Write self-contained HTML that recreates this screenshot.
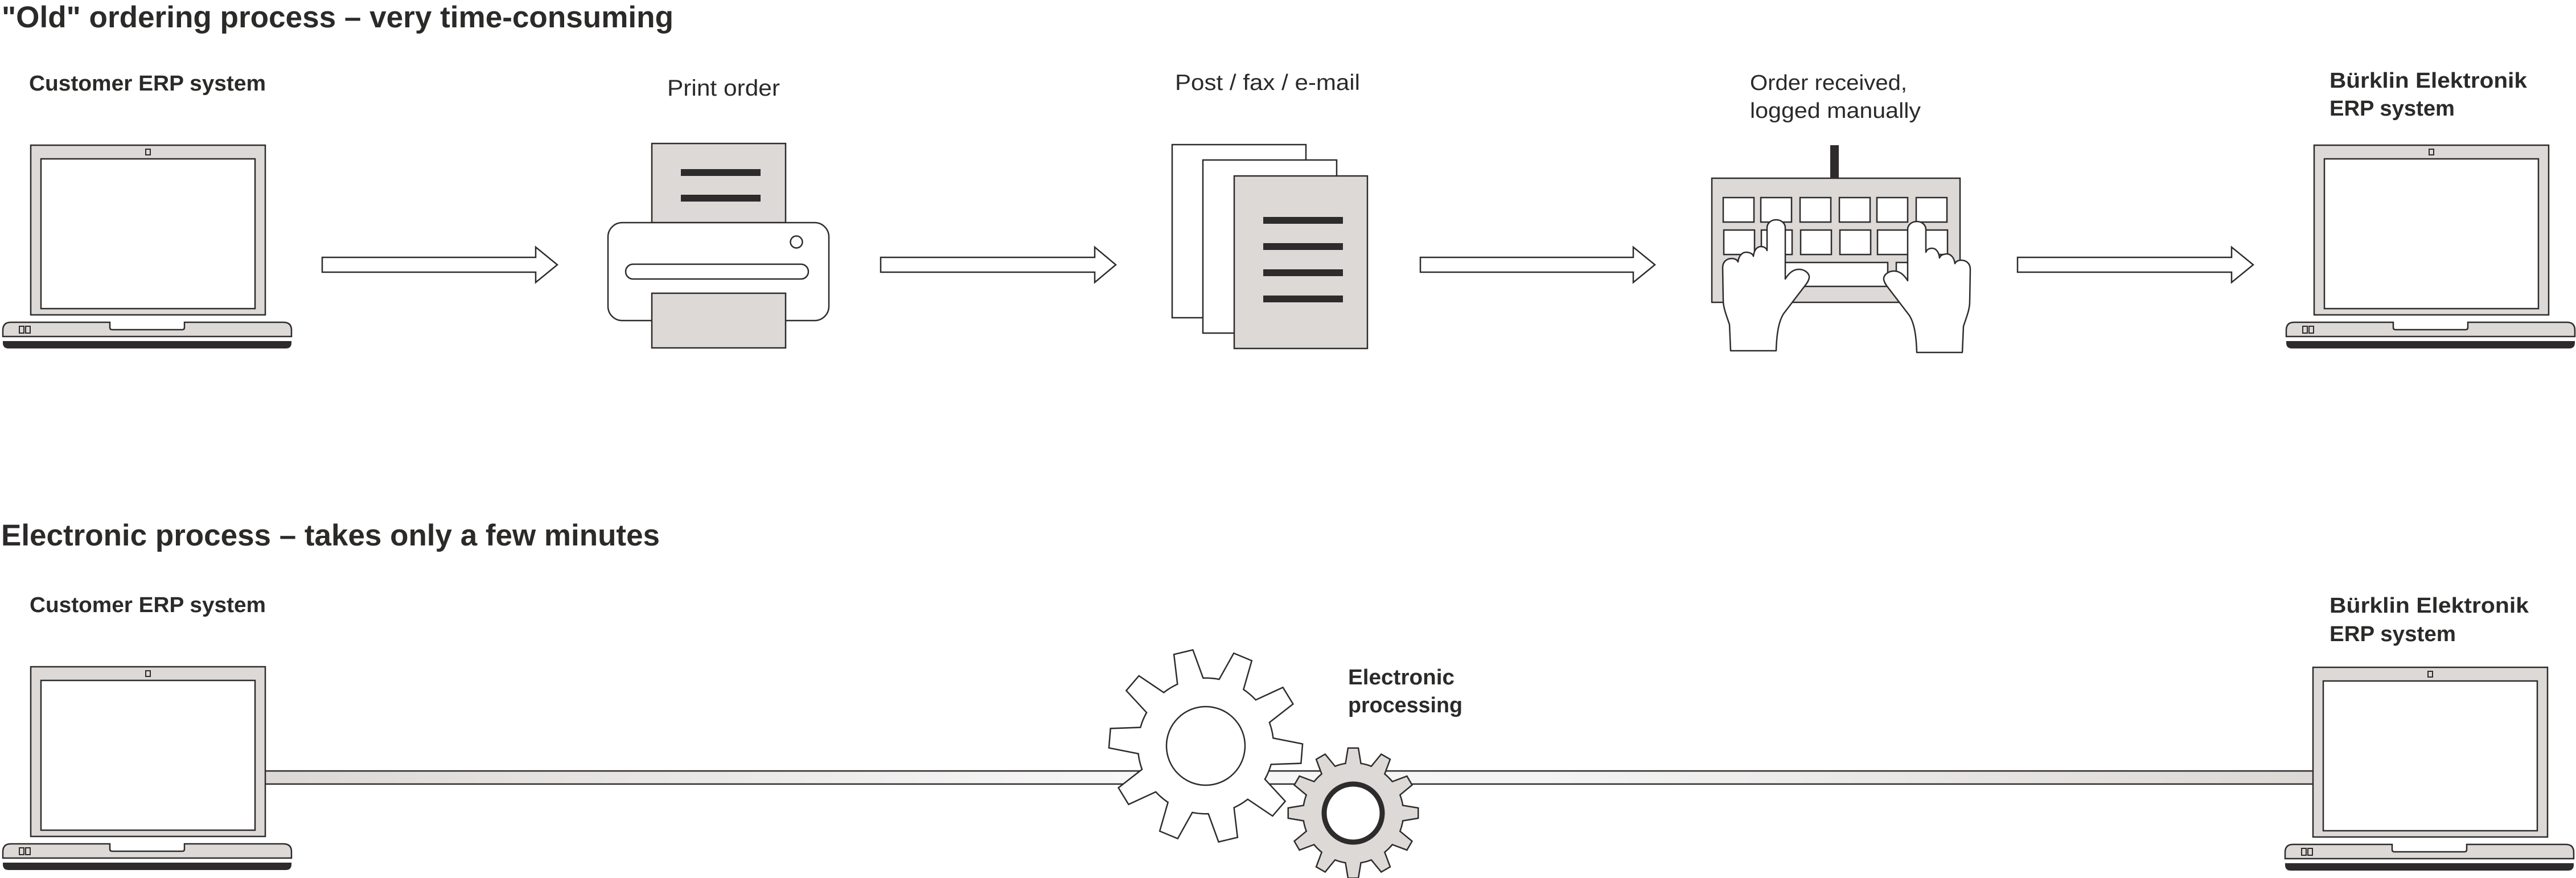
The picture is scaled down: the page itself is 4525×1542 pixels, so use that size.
<!DOCTYPE html>
<html><head><meta charset="utf-8">
<style>
html,body{margin:0;padding:0;background:#fff;}
svg{display:block;}
text{font-family:"Liberation Sans",sans-serif;fill:#2b2a29;}
.b{font-weight:bold;}
</style></head><body>
<svg width="4525" height="1542" viewBox="0 0 4525 1542" xmlns="http://www.w3.org/2000/svg">
<defs>
<linearGradient id="barg" x1="466" x2="4063" y1="0" y2="0" gradientUnits="userSpaceOnUse">
<stop offset="0" stop-color="#dcd8d5"/>
<stop offset="0.42" stop-color="#f7f7f7"/>
<stop offset="0.62" stop-color="#f4f4f4"/>
<stop offset="1" stop-color="#dcd8d5"/>
</linearGradient>
<g id="laptop" stroke="#2e2b2c" stroke-width="2.5">
  <path d="M-49 336 L-49 325 Q-49 311 -35 311 L139 311 L139 320 Q139 324 143 324 L266 324 Q270 324 270 320 L270 311 L444 311 Q458 311 458 325 L458 336 Z" fill="#ddd9d6"/>
  <rect x="-20" y="318" width="8" height="12" fill="none" stroke-width="2"/>
  <rect x="-9" y="318" width="8" height="12" fill="none" stroke-width="2"/>
  <path d="M-49 344 L458 344 L458 347 Q458 357 448 357 L-39 357 Q-49 357 -49 347 Z" fill="#2e2b2c" stroke="none"/>
  <rect x="0" y="0" width="412" height="298" fill="#ddd9d6"/>
  <rect x="18" y="24" width="376" height="263" fill="#fff"/>
  <rect x="202" y="7" width="8" height="10" fill="none" stroke-width="2"/>
</g>
<path id="hand" d="M3040 616 L3038 570 C3032 552 3027 540 3027 527 L3026 470 C3026 459 3034 454 3042 454 C3048 454 3052 457 3053 460 C3054 450 3060 443 3067 443 C3074 443 3079 446 3080 450 C3081 440 3086 433 3093 433 C3099 433 3103 436 3104 440 L3104 400 C3104 392 3111 386 3120 386 C3129 386 3136 392 3136 400 L3136 490 C3142 480 3150 473 3160 473 C3170 473 3179 480 3178 488 C3177 493 3175 496 3172 500 L3133 551 C3126 562 3121 580 3120 616 Z" fill="#fff" stroke="#2e2b2c" stroke-width="2.5" stroke-linejoin="round"/>
<g id="bigg">
  <circle cx="0" cy="0" r="118"/>
  <polygon points="-23.3,-105 -16,-168 16,-168 23.3,-105" transform="rotate(-13.4)"/>
  <polygon points="-23.3,-105 -16,-168 16,-168 23.3,-105" transform="rotate(22.6)"/>
  <polygon points="-23.3,-105 -16,-168 16,-168 23.3,-105" transform="rotate(58.6)"/>
  <polygon points="-23.3,-105 -16,-168 16,-168 23.3,-105" transform="rotate(94.6)"/>
  <polygon points="-23.3,-105 -16,-168 16,-168 23.3,-105" transform="rotate(130.6)"/>
  <polygon points="-23.3,-105 -16,-168 16,-168 23.3,-105" transform="rotate(166.6)"/>
  <polygon points="-23.3,-105 -16,-168 16,-168 23.3,-105" transform="rotate(202.6)"/>
  <polygon points="-23.3,-105 -16,-168 16,-168 23.3,-105" transform="rotate(238.6)"/>
  <polygon points="-23.3,-105 -16,-168 16,-168 23.3,-105" transform="rotate(274.6)"/>
  <polygon points="-23.3,-105 -16,-168 16,-168 23.3,-105" transform="rotate(310.6)"/>
</g>
<g id="smallg">
  <circle cx="0" cy="0" r="87"/>
  <polygon points="-13.8,-78 -8,-113 8,-113 13.8,-78" transform="rotate(0)"/>
  <polygon points="-13.8,-78 -8,-113 8,-113 13.8,-78" transform="rotate(30)"/>
  <polygon points="-13.8,-78 -8,-113 8,-113 13.8,-78" transform="rotate(60)"/>
  <polygon points="-13.8,-78 -8,-113 8,-113 13.8,-78" transform="rotate(90)"/>
  <polygon points="-13.8,-78 -8,-113 8,-113 13.8,-78" transform="rotate(120)"/>
  <polygon points="-13.8,-78 -8,-113 8,-113 13.8,-78" transform="rotate(150)"/>
  <polygon points="-13.8,-78 -8,-113 8,-113 13.8,-78" transform="rotate(180)"/>
  <polygon points="-13.8,-78 -8,-113 8,-113 13.8,-78" transform="rotate(210)"/>
  <polygon points="-13.8,-78 -8,-113 8,-113 13.8,-78" transform="rotate(240)"/>
  <polygon points="-13.8,-78 -8,-113 8,-113 13.8,-78" transform="rotate(270)"/>
  <polygon points="-13.8,-78 -8,-113 8,-113 13.8,-78" transform="rotate(300)"/>
  <polygon points="-13.8,-78 -8,-113 8,-113 13.8,-78" transform="rotate(330)"/>
</g>
</defs>

<!-- ===== TOP SECTION ===== -->
<text class="b" x="3" y="48" font-size="53" textLength="1180" lengthAdjust="spacingAndGlyphs">"Old" ordering process – very time-consuming</text>

<text class="b" x="51" y="159" font-size="38" textLength="416" lengthAdjust="spacingAndGlyphs">Customer ERP system</text>
<text x="1172" y="168" font-size="40" textLength="198" lengthAdjust="spacingAndGlyphs">Print order</text>
<text x="2064" y="158" font-size="39" textLength="325" lengthAdjust="spacingAndGlyphs">Post / fax / e-mail</text>
<text x="3074" y="158" font-size="38" textLength="276" lengthAdjust="spacingAndGlyphs">Order received,</text>
<text x="3074" y="207" font-size="38" textLength="300" lengthAdjust="spacingAndGlyphs">logged manually</text>
<text class="b" x="4092" y="154" font-size="38" textLength="347" lengthAdjust="spacingAndGlyphs">Bürklin Elektronik</text>
<text class="b" x="4092" y="203" font-size="38" textLength="220" lengthAdjust="spacingAndGlyphs">ERP system</text>

<use href="#laptop" transform="translate(54,255)"/>
<use href="#laptop" transform="translate(4065,255)"/>

<!-- arrows -->
<g fill="#fff" stroke="#2e2b2c" stroke-width="2.5" stroke-linejoin="miter">
<polygon points="566,452 941,452 941,434 979,465 941,496 941,478 566,478"/>
<polygon points="1547,452 1923,452 1923,434 1960,465 1923,496 1923,478 1547,478"/>
<polygon points="2495,452 2869,452 2869,434 2907,465 2869,496 2869,478 2495,478"/>
<polygon points="3544,452 3920,452 3920,434 3958,465 3920,496 3920,478 3544,478"/>
</g>

<!-- printer -->
<g stroke="#2e2b2c" stroke-width="2.5">
<rect x="1145" y="252" width="235" height="139" fill="#ddd9d6"/>
<rect x="1196" y="297" width="140" height="12" fill="#2e2b2c" stroke="none"/>
<rect x="1196" y="342" width="140" height="12" fill="#2e2b2c" stroke="none"/>
<rect x="1068" y="391" width="388" height="172" rx="25" ry="25" fill="#fff"/>
<circle cx="1399" cy="425" r="10.5" fill="#fff"/>
<rect x="1099" y="464" width="321" height="26" rx="13" ry="13" fill="#fff"/>
<rect x="1145" y="515" width="235" height="96" fill="#ddd9d6"/>
</g>

<!-- documents -->
<g stroke="#2e2b2c" stroke-width="2.5">
<rect x="2059" y="254" width="235" height="304" fill="#fff"/>
<rect x="2113" y="281" width="235" height="304" fill="#fff"/>
<rect x="2168" y="309" width="234" height="303" fill="#ddd9d6"/>
</g>
<g fill="#2e2b2c">
<rect x="2219" y="381" width="140" height="12"/>
<rect x="2219" y="427" width="140" height="12"/>
<rect x="2219" y="473" width="140" height="12"/>
<rect x="2219" y="519" width="140" height="12"/>
</g>

<!-- keyboard -->
<rect x="3215" y="255" width="15" height="60" fill="#2e2b2c"/>
<g stroke="#2e2b2c" stroke-width="2.5">
<rect x="3007" y="313" width="436" height="218" fill="#ddd9d6"/>
<g fill="#fff">
<rect x="3027" y="347" width="54" height="43"/>
<rect x="3093" y="347" width="54" height="43"/>
<rect x="3162" y="347" width="54" height="43"/>
<rect x="3231" y="347" width="54" height="43"/>
<rect x="3297" y="347" width="54" height="43"/>
<rect x="3366" y="347" width="54" height="43"/>
<rect x="3028" y="404" width="54" height="43"/>
<rect x="3094" y="404" width="54" height="43"/>
<rect x="3163" y="404" width="54" height="43"/>
<rect x="3232" y="404" width="54" height="43"/>
<rect x="3298" y="404" width="54" height="43"/>
<rect x="3367" y="404" width="54" height="43"/>
<rect x="3100" y="461" width="216" height="42"/>
<rect x="3331" y="461" width="50" height="42"/>
</g>
</g>
<use href="#hand"/>
<use href="#hand" transform="translate(6487,3) scale(-1,1)"/>

<!-- ===== BOTTOM SECTION ===== -->
<text class="b" x="2" y="958" font-size="53" textLength="1157" lengthAdjust="spacingAndGlyphs">Electronic process – takes only a few minutes</text>
<text class="b" x="52" y="1075" font-size="38" textLength="415" lengthAdjust="spacingAndGlyphs">Customer ERP system</text>
<text class="b" x="4092" y="1076" font-size="38" textLength="350" lengthAdjust="spacingAndGlyphs">Bürklin Elektronik</text>
<text class="b" x="4092" y="1126" font-size="38" textLength="222" lengthAdjust="spacingAndGlyphs">ERP system</text>
<text class="b" x="2368" y="1202" font-size="38" textLength="187" lengthAdjust="spacingAndGlyphs">Electronic</text>
<text class="b" x="2368" y="1251" font-size="38" textLength="201" lengthAdjust="spacingAndGlyphs">processing</text>

<!-- connector bar -->
<rect x="440" y="1354" width="3650" height="23" fill="url(#barg)" stroke="#2e2b2c" stroke-width="2.5"/>

<use href="#laptop" transform="translate(54,1171)"/>
<use href="#laptop" transform="translate(4063,1172)"/>

<!-- gears -->
<g transform="translate(2118,1310)">
  <use href="#bigg" fill="#2e2b2c" stroke="#2e2b2c" stroke-width="5" stroke-linejoin="miter"/>
  <use href="#bigg" fill="#fff" stroke="none"/>
  <circle cx="0" cy="0" r="69" fill="none" stroke="#2e2b2c" stroke-width="2.5"/>
</g>
<g transform="translate(2377,1428)">
  <use href="#smallg" fill="#2e2b2c" stroke="#2e2b2c" stroke-width="5" stroke-linejoin="miter"/>
  <use href="#smallg" fill="#ddd9d6" stroke="none"/>
  <circle cx="0" cy="0" r="51" fill="#fff" stroke="#2e2b2c" stroke-width="9"/>
</g>
</svg>
</body></html>
